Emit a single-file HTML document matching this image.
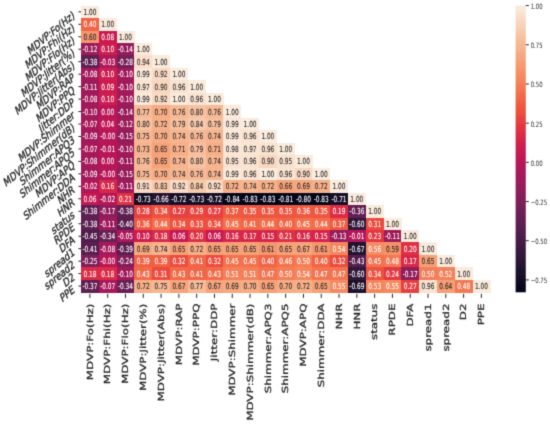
<!DOCTYPE html>
<html lang="en"><head><meta charset="utf-8"><title>Correlation heatmap</title>
<style>html,body{margin:0;padding:0;background:#fff;overflow:hidden}svg{display:block}text{font-family:"DejaVu Sans","Liberation Sans",sans-serif;text-rendering:geometricPrecision;stroke-width:4px;paint-order:stroke}.w{stroke:#fff}.d,.t{stroke:#262626}.a{stroke-width:1.2px}.a{font-size:83px;text-anchor:middle}.w{fill:#fff}.d{fill:#262626}.t{font-size:119px;fill:#262626}.y{font-size:116px}.c{font-size:73px;fill:#262626}</style></head><body>
<svg width="550" height="425" viewBox="0 0 550 425">
<defs><linearGradient id="cb" x1="0" y1="1" x2="0" y2="0">
<stop offset="0" stop-color="#03051a"/>
<stop offset="0.02" stop-color="#07071d"/>
<stop offset="0.03" stop-color="#0d0a21"/>
<stop offset="0.05" stop-color="#130d25"/>
<stop offset="0.06" stop-color="#180f29"/>
<stop offset="0.08" stop-color="#1e122d"/>
<stop offset="0.09" stop-color="#241432"/>
<stop offset="0.11" stop-color="#2a1636"/>
<stop offset="0.12" stop-color="#30173a"/>
<stop offset="0.14" stop-color="#35193e"/>
<stop offset="0.16" stop-color="#3c1a42"/>
<stop offset="0.17" stop-color="#421b45"/>
<stop offset="0.19" stop-color="#481c48"/>
<stop offset="0.2" stop-color="#4e1d4b"/>
<stop offset="0.22" stop-color="#541e4e"/>
<stop offset="0.23" stop-color="#5b1e51"/>
<stop offset="0.25" stop-color="#611f53"/>
<stop offset="0.27" stop-color="#681f55"/>
<stop offset="0.28" stop-color="#6e1f57"/>
<stop offset="0.3" stop-color="#751f58"/>
<stop offset="0.31" stop-color="#7b1f59"/>
<stop offset="0.33" stop-color="#821e5a"/>
<stop offset="0.34" stop-color="#891e5b"/>
<stop offset="0.36" stop-color="#901d5b"/>
<stop offset="0.38" stop-color="#971c5b"/>
<stop offset="0.39" stop-color="#9e1a5b"/>
<stop offset="0.41" stop-color="#a4195b"/>
<stop offset="0.42" stop-color="#ab185a"/>
<stop offset="0.44" stop-color="#b21758"/>
<stop offset="0.45" stop-color="#b91657"/>
<stop offset="0.47" stop-color="#bf1654"/>
<stop offset="0.48" stop-color="#c51852"/>
<stop offset="0.5" stop-color="#cb1b4f"/>
<stop offset="0.52" stop-color="#d11f4c"/>
<stop offset="0.53" stop-color="#d62449"/>
<stop offset="0.55" stop-color="#db2946"/>
<stop offset="0.56" stop-color="#df2f44"/>
<stop offset="0.58" stop-color="#e33641"/>
<stop offset="0.59" stop-color="#e73d3f"/>
<stop offset="0.61" stop-color="#ea443e"/>
<stop offset="0.62" stop-color="#ec4c3e"/>
<stop offset="0.64" stop-color="#ee543f"/>
<stop offset="0.66" stop-color="#f05c42"/>
<stop offset="0.67" stop-color="#f16445"/>
<stop offset="0.69" stop-color="#f26b49"/>
<stop offset="0.7" stop-color="#f3734e"/>
<stop offset="0.72" stop-color="#f47a54"/>
<stop offset="0.73" stop-color="#f4815a"/>
<stop offset="0.75" stop-color="#f58860"/>
<stop offset="0.77" stop-color="#f58f66"/>
<stop offset="0.78" stop-color="#f5966c"/>
<stop offset="0.8" stop-color="#f69c73"/>
<stop offset="0.81" stop-color="#f6a37a"/>
<stop offset="0.83" stop-color="#f6a981"/>
<stop offset="0.84" stop-color="#f6b089"/>
<stop offset="0.86" stop-color="#f6b691"/>
<stop offset="0.88" stop-color="#f6bc99"/>
<stop offset="0.89" stop-color="#f7c2a2"/>
<stop offset="0.91" stop-color="#f7c9aa"/>
<stop offset="0.92" stop-color="#f7cfb3"/>
<stop offset="0.94" stop-color="#f8d4bc"/>
<stop offset="0.95" stop-color="#f8dac5"/>
<stop offset="0.97" stop-color="#f9e0cd"/>
<stop offset="0.98" stop-color="#fae6d6"/>
<stop offset="1" stop-color="#faebdd"/>
</linearGradient>
<filter id="bl" x="0" y="0" width="550" height="425" filterUnits="userSpaceOnUse" color-interpolation-filters="sRGB"><feConvolveMatrix order="5 1" kernelMatrix="0.0010 0.1382 0.7217 0.1382 0.0010" edgeMode="duplicate" preserveAlpha="true" result="h"/><feConvolveMatrix in="h" order="1 5" kernelMatrix="0.0010 0.1382 0.7217 0.1382 0.0010" edgeMode="duplicate" preserveAlpha="true"/></filter>
</defs>
<g filter="url(#bl)">
<rect width="550" height="425" fill="#fff"/>
<g shape-rendering="crispEdges">
<rect x="81" y="5.6" width="18.1" height="12.77" fill="#faebdd"/>
<rect x="81" y="18.07" width="18.1" height="12.77" fill="#f16445"/>
<rect x="98.8" y="18.07" width="18.1" height="12.77" fill="#faebdd"/>
<rect x="81" y="30.53" width="18.1" height="12.77" fill="#f5966c"/>
<rect x="98.8" y="30.53" width="18.1" height="12.77" fill="#ca1a50"/>
<rect x="116.59" y="30.53" width="18.1" height="12.77" fill="#faebdd"/>
<rect x="81" y="43" width="18.1" height="12.77" fill="#9c1b5b"/>
<rect x="98.8" y="43" width="18.1" height="12.77" fill="#ce1d4e"/>
<rect x="116.59" y="43" width="18.1" height="12.77" fill="#971c5b"/>
<rect x="134.39" y="43" width="18.1" height="12.77" fill="#faebdd"/>
<rect x="81" y="55.46" width="18.1" height="12.77" fill="#5e1f52"/>
<rect x="98.8" y="55.46" width="18.1" height="12.77" fill="#b01759"/>
<rect x="116.59" y="55.46" width="18.1" height="12.77" fill="#751f58"/>
<rect x="134.39" y="55.46" width="18.1" height="12.77" fill="#f9dfcb"/>
<rect x="152.18" y="55.46" width="18.1" height="12.77" fill="#faebdd"/>
<rect x="81" y="67.93" width="18.1" height="12.77" fill="#a4195b"/>
<rect x="98.8" y="67.93" width="18.1" height="12.77" fill="#ce1d4e"/>
<rect x="116.59" y="67.93" width="18.1" height="12.77" fill="#a11a5b"/>
<rect x="134.39" y="67.93" width="18.1" height="12.77" fill="#fae9da"/>
<rect x="152.18" y="67.93" width="18.1" height="12.77" fill="#f8dac5"/>
<rect x="169.98" y="67.93" width="18.1" height="12.77" fill="#faebdd"/>
<rect x="81" y="80.39" width="18.1" height="12.77" fill="#9e1a5b"/>
<rect x="98.8" y="80.39" width="18.1" height="12.77" fill="#cb1b4f"/>
<rect x="116.59" y="80.39" width="18.1" height="12.77" fill="#a11a5b"/>
<rect x="134.39" y="80.39" width="18.1" height="12.77" fill="#f9e5d4"/>
<rect x="152.18" y="80.39" width="18.1" height="12.77" fill="#f8d7c0"/>
<rect x="169.98" y="80.39" width="18.1" height="12.77" fill="#f9e3d2"/>
<rect x="187.77" y="80.39" width="18.1" height="12.77" fill="#faebdd"/>
<rect x="81" y="92.86" width="18.1" height="12.77" fill="#a4195b"/>
<rect x="98.8" y="92.86" width="18.1" height="12.77" fill="#ce1d4e"/>
<rect x="116.59" y="92.86" width="18.1" height="12.77" fill="#a11a5b"/>
<rect x="134.39" y="92.86" width="18.1" height="12.77" fill="#fae9da"/>
<rect x="152.18" y="92.86" width="18.1" height="12.77" fill="#f8dac5"/>
<rect x="169.98" y="92.86" width="18.1" height="12.77" fill="#faebdd"/>
<rect x="187.77" y="92.86" width="18.1" height="12.77" fill="#f9e3d2"/>
<rect x="205.57" y="92.86" width="18.1" height="12.77" fill="#faebdd"/>
<rect x="81" y="105.32" width="18.1" height="12.77" fill="#a11a5b"/>
<rect x="98.8" y="105.32" width="18.1" height="12.77" fill="#b91657"/>
<rect x="116.59" y="105.32" width="18.1" height="12.77" fill="#971c5b"/>
<rect x="134.39" y="105.32" width="18.1" height="12.77" fill="#f6bb97"/>
<rect x="152.18" y="105.32" width="18.1" height="12.77" fill="#f6ad85"/>
<rect x="169.98" y="105.32" width="18.1" height="12.77" fill="#f6b995"/>
<rect x="187.77" y="105.32" width="18.1" height="12.77" fill="#f7c2a2"/>
<rect x="205.57" y="105.32" width="18.1" height="12.77" fill="#f6b995"/>
<rect x="223.37" y="105.32" width="18.1" height="12.77" fill="#faebdd"/>
<rect x="81" y="117.79" width="18.1" height="12.77" fill="#a8185a"/>
<rect x="98.8" y="117.79" width="18.1" height="12.77" fill="#c11754"/>
<rect x="116.59" y="117.79" width="18.1" height="12.77" fill="#9c1b5b"/>
<rect x="134.39" y="117.79" width="18.1" height="12.77" fill="#f7c2a2"/>
<rect x="152.18" y="117.79" width="18.1" height="12.77" fill="#f6b089"/>
<rect x="169.98" y="117.79" width="18.1" height="12.77" fill="#f6bf9d"/>
<rect x="187.77" y="117.79" width="18.1" height="12.77" fill="#f7caac"/>
<rect x="205.57" y="117.79" width="18.1" height="12.77" fill="#f6bf9d"/>
<rect x="223.37" y="117.79" width="18.1" height="12.77" fill="#fae9da"/>
<rect x="241.16" y="117.79" width="18.1" height="12.77" fill="#faebdd"/>
<rect x="81" y="130.25" width="18.1" height="12.77" fill="#a3195b"/>
<rect x="98.8" y="130.25" width="18.1" height="12.77" fill="#b91657"/>
<rect x="116.59" y="130.25" width="18.1" height="12.77" fill="#951c5b"/>
<rect x="134.39" y="130.25" width="18.1" height="12.77" fill="#f6b893"/>
<rect x="152.18" y="130.25" width="18.1" height="12.77" fill="#f6ad85"/>
<rect x="169.98" y="130.25" width="18.1" height="12.77" fill="#f6b48f"/>
<rect x="187.77" y="130.25" width="18.1" height="12.77" fill="#f6b995"/>
<rect x="205.57" y="130.25" width="18.1" height="12.77" fill="#f6b48f"/>
<rect x="223.37" y="130.25" width="18.1" height="12.77" fill="#fae9da"/>
<rect x="241.16" y="130.25" width="18.1" height="12.77" fill="#f9e3d2"/>
<rect x="258.96" y="130.25" width="18.1" height="12.77" fill="#faebdd"/>
<rect x="81" y="142.72" width="18.1" height="12.77" fill="#a8185a"/>
<rect x="98.8" y="142.72" width="18.1" height="12.77" fill="#b51657"/>
<rect x="116.59" y="142.72" width="18.1" height="12.77" fill="#a11a5b"/>
<rect x="134.39" y="142.72" width="18.1" height="12.77" fill="#f6b38d"/>
<rect x="152.18" y="142.72" width="18.1" height="12.77" fill="#f6a178"/>
<rect x="169.98" y="142.72" width="18.1" height="12.77" fill="#f6ae87"/>
<rect x="187.77" y="142.72" width="18.1" height="12.77" fill="#f6bf9d"/>
<rect x="205.57" y="142.72" width="18.1" height="12.77" fill="#f6ae87"/>
<rect x="223.37" y="142.72" width="18.1" height="12.77" fill="#fae8d8"/>
<rect x="241.16" y="142.72" width="18.1" height="12.77" fill="#f9e5d4"/>
<rect x="258.96" y="142.72" width="18.1" height="12.77" fill="#f9e3d2"/>
<rect x="276.75" y="142.72" width="18.1" height="12.77" fill="#faebdd"/>
<rect x="81" y="155.18" width="18.1" height="12.77" fill="#a4195b"/>
<rect x="98.8" y="155.18" width="18.1" height="12.77" fill="#b91657"/>
<rect x="116.59" y="155.18" width="18.1" height="12.77" fill="#9e1a5b"/>
<rect x="134.39" y="155.18" width="18.1" height="12.77" fill="#f6b995"/>
<rect x="152.18" y="155.18" width="18.1" height="12.77" fill="#f6a178"/>
<rect x="169.98" y="155.18" width="18.1" height="12.77" fill="#f6b48f"/>
<rect x="187.77" y="155.18" width="18.1" height="12.77" fill="#f7c2a2"/>
<rect x="205.57" y="155.18" width="18.1" height="12.77" fill="#f6b48f"/>
<rect x="223.37" y="155.18" width="18.1" height="12.77" fill="#f9e2d0"/>
<rect x="241.16" y="155.18" width="18.1" height="12.77" fill="#f9e3d2"/>
<rect x="258.96" y="155.18" width="18.1" height="12.77" fill="#f8d7c0"/>
<rect x="276.75" y="155.18" width="18.1" height="12.77" fill="#f9e2d0"/>
<rect x="294.55" y="155.18" width="18.1" height="12.77" fill="#faebdd"/>
<rect x="81" y="167.65" width="18.1" height="12.77" fill="#a3195b"/>
<rect x="98.8" y="167.65" width="18.1" height="12.77" fill="#b91657"/>
<rect x="116.59" y="167.65" width="18.1" height="12.77" fill="#951c5b"/>
<rect x="134.39" y="167.65" width="18.1" height="12.77" fill="#f6b893"/>
<rect x="152.18" y="167.65" width="18.1" height="12.77" fill="#f6ad85"/>
<rect x="169.98" y="167.65" width="18.1" height="12.77" fill="#f6b48f"/>
<rect x="187.77" y="167.65" width="18.1" height="12.77" fill="#f6b995"/>
<rect x="205.57" y="167.65" width="18.1" height="12.77" fill="#f6b48f"/>
<rect x="223.37" y="167.65" width="18.1" height="12.77" fill="#fae9da"/>
<rect x="241.16" y="167.65" width="18.1" height="12.77" fill="#f9e3d2"/>
<rect x="258.96" y="167.65" width="18.1" height="12.77" fill="#faebdd"/>
<rect x="276.75" y="167.65" width="18.1" height="12.77" fill="#f9e3d2"/>
<rect x="294.55" y="167.65" width="18.1" height="12.77" fill="#f8d7c0"/>
<rect x="312.34" y="167.65" width="18.1" height="12.77" fill="#faebdd"/>
<rect x="81" y="180.11" width="18.1" height="12.77" fill="#b41658"/>
<rect x="98.8" y="180.11" width="18.1" height="12.77" fill="#d82748"/>
<rect x="116.59" y="180.11" width="18.1" height="12.77" fill="#9e1a5b"/>
<rect x="134.39" y="180.11" width="18.1" height="12.77" fill="#f8d9c3"/>
<rect x="152.18" y="180.11" width="18.1" height="12.77" fill="#f7c9aa"/>
<rect x="169.98" y="180.11" width="18.1" height="12.77" fill="#f8dac5"/>
<rect x="187.77" y="180.11" width="18.1" height="12.77" fill="#f7caac"/>
<rect x="205.57" y="180.11" width="18.1" height="12.77" fill="#f8dac5"/>
<rect x="223.37" y="180.11" width="18.1" height="12.77" fill="#f6b089"/>
<rect x="241.16" y="180.11" width="18.1" height="12.77" fill="#f6b48f"/>
<rect x="258.96" y="180.11" width="18.1" height="12.77" fill="#f6b089"/>
<rect x="276.75" y="180.11" width="18.1" height="12.77" fill="#f6a37a"/>
<rect x="294.55" y="180.11" width="18.1" height="12.77" fill="#f6a981"/>
<rect x="312.34" y="180.11" width="18.1" height="12.77" fill="#f6b089"/>
<rect x="330.14" y="180.11" width="18.1" height="12.77" fill="#faebdd"/>
<rect x="81" y="192.58" width="18.1" height="12.77" fill="#c51852"/>
<rect x="98.8" y="192.58" width="18.1" height="12.77" fill="#b41658"/>
<rect x="116.59" y="192.58" width="18.1" height="12.77" fill="#e03143"/>
<rect x="134.39" y="192.58" width="18.1" height="12.77" fill="#140e26"/>
<rect x="152.18" y="192.58" width="18.1" height="12.77" fill="#221331"/>
<rect x="169.98" y="192.58" width="18.1" height="12.77" fill="#170f28"/>
<rect x="187.77" y="192.58" width="18.1" height="12.77" fill="#140e26"/>
<rect x="205.57" y="192.58" width="18.1" height="12.77" fill="#170f28"/>
<rect x="223.37" y="192.58" width="18.1" height="12.77" fill="#03051a"/>
<rect x="241.16" y="192.58" width="18.1" height="12.77" fill="#03051a"/>
<rect x="258.96" y="192.58" width="18.1" height="12.77" fill="#03051a"/>
<rect x="276.75" y="192.58" width="18.1" height="12.77" fill="#05061b"/>
<rect x="294.55" y="192.58" width="18.1" height="12.77" fill="#07071d"/>
<rect x="312.34" y="192.58" width="18.1" height="12.77" fill="#03051a"/>
<rect x="330.14" y="192.58" width="18.1" height="12.77" fill="#180f29"/>
<rect x="347.93" y="192.58" width="18.1" height="12.77" fill="#faebdd"/>
<rect x="81" y="205.04" width="18.1" height="12.77" fill="#5e1f52"/>
<rect x="98.8" y="205.04" width="18.1" height="12.77" fill="#901d5b"/>
<rect x="116.59" y="205.04" width="18.1" height="12.77" fill="#5e1f52"/>
<rect x="134.39" y="205.04" width="18.1" height="12.77" fill="#e9423e"/>
<rect x="152.18" y="205.04" width="18.1" height="12.77" fill="#ee523f"/>
<rect x="169.98" y="205.04" width="18.1" height="12.77" fill="#e83f3f"/>
<rect x="187.77" y="205.04" width="18.1" height="12.77" fill="#ea443e"/>
<rect x="205.57" y="205.04" width="18.1" height="12.77" fill="#e83f3f"/>
<rect x="223.37" y="205.04" width="18.1" height="12.77" fill="#ef5a41"/>
<rect x="241.16" y="205.04" width="18.1" height="12.77" fill="#ef5640"/>
<rect x="258.96" y="205.04" width="18.1" height="12.77" fill="#ef5640"/>
<rect x="276.75" y="205.04" width="18.1" height="12.77" fill="#ef5640"/>
<rect x="294.55" y="205.04" width="18.1" height="12.77" fill="#ef5840"/>
<rect x="312.34" y="205.04" width="18.1" height="12.77" fill="#ef5640"/>
<rect x="330.14" y="205.04" width="18.1" height="12.77" fill="#dd2c45"/>
<rect x="347.93" y="205.04" width="18.1" height="12.77" fill="#631f53"/>
<rect x="365.73" y="205.04" width="18.1" height="12.77" fill="#faebdd"/>
<rect x="81" y="217.51" width="18.1" height="12.77" fill="#5e1f52"/>
<rect x="98.8" y="217.51" width="18.1" height="12.77" fill="#9e1a5b"/>
<rect x="116.59" y="217.51" width="18.1" height="12.77" fill="#5b1e51"/>
<rect x="134.39" y="217.51" width="18.1" height="12.77" fill="#ef5840"/>
<rect x="152.18" y="217.51" width="18.1" height="12.77" fill="#f26d4b"/>
<rect x="169.98" y="217.51" width="18.1" height="12.77" fill="#ee523f"/>
<rect x="187.77" y="217.51" width="18.1" height="12.77" fill="#ed503e"/>
<rect x="205.57" y="217.51" width="18.1" height="12.77" fill="#ee523f"/>
<rect x="223.37" y="217.51" width="18.1" height="12.77" fill="#f3714d"/>
<rect x="241.16" y="217.51" width="18.1" height="12.77" fill="#f16646"/>
<rect x="258.96" y="217.51" width="18.1" height="12.77" fill="#f26d4b"/>
<rect x="276.75" y="217.51" width="18.1" height="12.77" fill="#f16445"/>
<rect x="294.55" y="217.51" width="18.1" height="12.77" fill="#f3714d"/>
<rect x="312.34" y="217.51" width="18.1" height="12.77" fill="#f26d4b"/>
<rect x="330.14" y="217.51" width="18.1" height="12.77" fill="#ef5a41"/>
<rect x="347.93" y="217.51" width="18.1" height="12.77" fill="#30173a"/>
<rect x="365.73" y="217.51" width="18.1" height="12.77" fill="#ec4a3e"/>
<rect x="383.53" y="217.51" width="18.1" height="12.77" fill="#faebdd"/>
<rect x="81" y="229.97" width="18.1" height="12.77" fill="#501d4c"/>
<rect x="98.8" y="229.97" width="18.1" height="12.77" fill="#681f55"/>
<rect x="116.59" y="229.97" width="18.1" height="12.77" fill="#ad1759"/>
<rect x="134.39" y="229.97" width="18.1" height="12.77" fill="#ce1d4e"/>
<rect x="152.18" y="229.97" width="18.1" height="12.77" fill="#dc2b46"/>
<rect x="169.98" y="229.97" width="18.1" height="12.77" fill="#c51852"/>
<rect x="187.77" y="229.97" width="18.1" height="12.77" fill="#df2f44"/>
<rect x="205.57" y="229.97" width="18.1" height="12.77" fill="#c51852"/>
<rect x="223.37" y="229.97" width="18.1" height="12.77" fill="#d82748"/>
<rect x="241.16" y="229.97" width="18.1" height="12.77" fill="#d92847"/>
<rect x="258.96" y="229.97" width="18.1" height="12.77" fill="#d72549"/>
<rect x="276.75" y="229.97" width="18.1" height="12.77" fill="#e03143"/>
<rect x="294.55" y="229.97" width="18.1" height="12.77" fill="#d82748"/>
<rect x="312.34" y="229.97" width="18.1" height="12.77" fill="#d72549"/>
<rect x="330.14" y="229.97" width="18.1" height="12.77" fill="#981b5b"/>
<rect x="347.93" y="229.97" width="18.1" height="12.77" fill="#b51657"/>
<rect x="365.73" y="229.97" width="18.1" height="12.77" fill="#e33641"/>
<rect x="383.53" y="229.97" width="18.1" height="12.77" fill="#9e1a5b"/>
<rect x="401.32" y="229.97" width="18.1" height="12.77" fill="#faebdd"/>
<rect x="81" y="242.44" width="18.1" height="12.77" fill="#581e4f"/>
<rect x="98.8" y="242.44" width="18.1" height="12.77" fill="#a4195b"/>
<rect x="116.59" y="242.44" width="18.1" height="12.77" fill="#5c1e51"/>
<rect x="134.39" y="242.44" width="18.1" height="12.77" fill="#f6a981"/>
<rect x="152.18" y="242.44" width="18.1" height="12.77" fill="#f6b48f"/>
<rect x="169.98" y="242.44" width="18.1" height="12.77" fill="#f6a178"/>
<rect x="187.77" y="242.44" width="18.1" height="12.77" fill="#f6b089"/>
<rect x="205.57" y="242.44" width="18.1" height="12.77" fill="#f6a178"/>
<rect x="223.37" y="242.44" width="18.1" height="12.77" fill="#f6a178"/>
<rect x="241.16" y="242.44" width="18.1" height="12.77" fill="#f6a178"/>
<rect x="258.96" y="242.44" width="18.1" height="12.77" fill="#f5976e"/>
<rect x="276.75" y="242.44" width="18.1" height="12.77" fill="#f6a178"/>
<rect x="294.55" y="242.44" width="18.1" height="12.77" fill="#f6a47c"/>
<rect x="312.34" y="242.44" width="18.1" height="12.77" fill="#f5976e"/>
<rect x="330.14" y="242.44" width="18.1" height="12.77" fill="#f4865e"/>
<rect x="347.93" y="242.44" width="18.1" height="12.77" fill="#211330"/>
<rect x="365.73" y="242.44" width="18.1" height="12.77" fill="#f58b63"/>
<rect x="383.53" y="242.44" width="18.1" height="12.77" fill="#f59269"/>
<rect x="401.32" y="242.44" width="18.1" height="12.77" fill="#df2f44"/>
<rect x="419.12" y="242.44" width="18.1" height="12.77" fill="#faebdd"/>
<rect x="81" y="254.9" width="18.1" height="12.77" fill="#7d1f5a"/>
<rect x="98.8" y="254.9" width="18.1" height="12.77" fill="#b91657"/>
<rect x="116.59" y="254.9" width="18.1" height="12.77" fill="#7f1e5a"/>
<rect x="134.39" y="254.9" width="18.1" height="12.77" fill="#f06043"/>
<rect x="152.18" y="254.9" width="18.1" height="12.77" fill="#f06043"/>
<rect x="169.98" y="254.9" width="18.1" height="12.77" fill="#ec4c3e"/>
<rect x="187.77" y="254.9" width="18.1" height="12.77" fill="#f16646"/>
<rect x="205.57" y="254.9" width="18.1" height="12.77" fill="#ec4c3e"/>
<rect x="223.37" y="254.9" width="18.1" height="12.77" fill="#f3714d"/>
<rect x="241.16" y="254.9" width="18.1" height="12.77" fill="#f3714d"/>
<rect x="258.96" y="254.9" width="18.1" height="12.77" fill="#f16445"/>
<rect x="276.75" y="254.9" width="18.1" height="12.77" fill="#f3734e"/>
<rect x="294.55" y="254.9" width="18.1" height="12.77" fill="#f47d57"/>
<rect x="312.34" y="254.9" width="18.1" height="12.77" fill="#f16445"/>
<rect x="330.14" y="254.9" width="18.1" height="12.77" fill="#ec4c3e"/>
<rect x="347.93" y="254.9" width="18.1" height="12.77" fill="#531e4d"/>
<rect x="365.73" y="254.9" width="18.1" height="12.77" fill="#f3714d"/>
<rect x="383.53" y="254.9" width="18.1" height="12.77" fill="#f37852"/>
<rect x="401.32" y="254.9" width="18.1" height="12.77" fill="#d92847"/>
<rect x="419.12" y="254.9" width="18.1" height="12.77" fill="#f6a178"/>
<rect x="436.91" y="254.9" width="18.1" height="12.77" fill="#faebdd"/>
<rect x="81" y="267.37" width="18.1" height="12.77" fill="#dc2b46"/>
<rect x="98.8" y="267.37" width="18.1" height="12.77" fill="#dc2b46"/>
<rect x="116.59" y="267.37" width="18.1" height="12.77" fill="#a11a5b"/>
<rect x="134.39" y="267.37" width="18.1" height="12.77" fill="#f26b49"/>
<rect x="152.18" y="267.37" width="18.1" height="12.77" fill="#ec4a3e"/>
<rect x="169.98" y="267.37" width="18.1" height="12.77" fill="#f26b49"/>
<rect x="187.77" y="267.37" width="18.1" height="12.77" fill="#f16646"/>
<rect x="205.57" y="267.37" width="18.1" height="12.77" fill="#f26b49"/>
<rect x="223.37" y="267.37" width="18.1" height="12.77" fill="#f47f58"/>
<rect x="241.16" y="267.37" width="18.1" height="12.77" fill="#f47f58"/>
<rect x="258.96" y="267.37" width="18.1" height="12.77" fill="#f37450"/>
<rect x="276.75" y="267.37" width="18.1" height="12.77" fill="#f47d57"/>
<rect x="294.55" y="267.37" width="18.1" height="12.77" fill="#f4865e"/>
<rect x="312.34" y="267.37" width="18.1" height="12.77" fill="#f37450"/>
<rect x="330.14" y="267.37" width="18.1" height="12.77" fill="#f37450"/>
<rect x="347.93" y="267.37" width="18.1" height="12.77" fill="#30173a"/>
<rect x="365.73" y="267.37" width="18.1" height="12.77" fill="#ee523f"/>
<rect x="383.53" y="267.37" width="18.1" height="12.77" fill="#e43841"/>
<rect x="401.32" y="267.37" width="18.1" height="12.77" fill="#901d5b"/>
<rect x="419.12" y="267.37" width="18.1" height="12.77" fill="#f47d57"/>
<rect x="436.91" y="267.37" width="18.1" height="12.77" fill="#f4815a"/>
<rect x="454.71" y="267.37" width="18.1" height="12.77" fill="#faebdd"/>
<rect x="81" y="279.83" width="18.1" height="12.77" fill="#611f53"/>
<rect x="98.8" y="279.83" width="18.1" height="12.77" fill="#a8185a"/>
<rect x="116.59" y="279.83" width="18.1" height="12.77" fill="#681f55"/>
<rect x="134.39" y="279.83" width="18.1" height="12.77" fill="#f6b089"/>
<rect x="152.18" y="279.83" width="18.1" height="12.77" fill="#f6b893"/>
<rect x="169.98" y="279.83" width="18.1" height="12.77" fill="#f6a47c"/>
<rect x="187.77" y="279.83" width="18.1" height="12.77" fill="#f6bb97"/>
<rect x="205.57" y="279.83" width="18.1" height="12.77" fill="#f6a47c"/>
<rect x="223.37" y="279.83" width="18.1" height="12.77" fill="#f6a981"/>
<rect x="241.16" y="279.83" width="18.1" height="12.77" fill="#f6ad85"/>
<rect x="258.96" y="279.83" width="18.1" height="12.77" fill="#f6a178"/>
<rect x="276.75" y="279.83" width="18.1" height="12.77" fill="#f6ad85"/>
<rect x="294.55" y="279.83" width="18.1" height="12.77" fill="#f6b089"/>
<rect x="312.34" y="279.83" width="18.1" height="12.77" fill="#f6a178"/>
<rect x="330.14" y="279.83" width="18.1" height="12.77" fill="#f58a61"/>
<rect x="347.93" y="279.83" width="18.1" height="12.77" fill="#1d112c"/>
<rect x="365.73" y="279.83" width="18.1" height="12.77" fill="#f4845d"/>
<rect x="383.53" y="279.83" width="18.1" height="12.77" fill="#f58a61"/>
<rect x="401.32" y="279.83" width="18.1" height="12.77" fill="#e83f3f"/>
<rect x="419.12" y="279.83" width="18.1" height="12.77" fill="#f9e3d2"/>
<rect x="436.91" y="279.83" width="18.1" height="12.77" fill="#f69e75"/>
<rect x="454.71" y="279.83" width="18.1" height="12.77" fill="#f37852"/>
<rect x="472.5" y="279.83" width="18.1" height="12.77" fill="#faebdd"/>
</g>
<g><text class="a d" transform="translate(89.9 14.83) scale(0.07 .1)">1.00</text>
<text class="a w" transform="translate(89.9 27.3) scale(0.07 .1)">0.40</text>
<text class="a d" transform="translate(107.69 27.3) scale(0.07 .1)">1.00</text>
<text class="a d" transform="translate(89.9 39.76) scale(0.07 .1)">0.60</text>
<text class="a w" transform="translate(107.69 39.76) scale(0.07 .1)">0.08</text>
<text class="a d" transform="translate(125.49 39.76) scale(0.07 .1)">1.00</text>
<text class="a w" transform="translate(89.9 52.23) scale(0.07 .1)">-0.12</text>
<text class="a w" transform="translate(107.69 52.23) scale(0.07 .1)">0.10</text>
<text class="a w" transform="translate(125.49 52.23) scale(0.07 .1)">-0.14</text>
<text class="a d" transform="translate(143.28 52.23) scale(0.07 .1)">1.00</text>
<text class="a w" transform="translate(89.9 64.69) scale(0.07 .1)">-0.38</text>
<text class="a w" transform="translate(107.69 64.69) scale(0.07 .1)">-0.03</text>
<text class="a w" transform="translate(125.49 64.69) scale(0.07 .1)">-0.28</text>
<text class="a d" transform="translate(143.28 64.69) scale(0.07 .1)">0.94</text>
<text class="a d" transform="translate(161.08 64.69) scale(0.07 .1)">1.00</text>
<text class="a w" transform="translate(89.9 77.16) scale(0.07 .1)">-0.08</text>
<text class="a w" transform="translate(107.69 77.16) scale(0.07 .1)">0.10</text>
<text class="a w" transform="translate(125.49 77.16) scale(0.07 .1)">-0.10</text>
<text class="a d" transform="translate(143.28 77.16) scale(0.07 .1)">0.99</text>
<text class="a d" transform="translate(161.08 77.16) scale(0.07 .1)">0.92</text>
<text class="a d" transform="translate(178.88 77.16) scale(0.07 .1)">1.00</text>
<text class="a w" transform="translate(89.9 89.62) scale(0.07 .1)">-0.11</text>
<text class="a w" transform="translate(107.69 89.62) scale(0.07 .1)">0.09</text>
<text class="a w" transform="translate(125.49 89.62) scale(0.07 .1)">-0.10</text>
<text class="a d" transform="translate(143.28 89.62) scale(0.07 .1)">0.97</text>
<text class="a d" transform="translate(161.08 89.62) scale(0.07 .1)">0.90</text>
<text class="a d" transform="translate(178.88 89.62) scale(0.07 .1)">0.96</text>
<text class="a d" transform="translate(196.67 89.62) scale(0.07 .1)">1.00</text>
<text class="a w" transform="translate(89.9 102.09) scale(0.07 .1)">-0.08</text>
<text class="a w" transform="translate(107.69 102.09) scale(0.07 .1)">0.10</text>
<text class="a w" transform="translate(125.49 102.09) scale(0.07 .1)">-0.10</text>
<text class="a d" transform="translate(143.28 102.09) scale(0.07 .1)">0.99</text>
<text class="a d" transform="translate(161.08 102.09) scale(0.07 .1)">0.92</text>
<text class="a d" transform="translate(178.88 102.09) scale(0.07 .1)">1.00</text>
<text class="a d" transform="translate(196.67 102.09) scale(0.07 .1)">0.96</text>
<text class="a d" transform="translate(214.47 102.09) scale(0.07 .1)">1.00</text>
<text class="a w" transform="translate(89.9 114.55) scale(0.07 .1)">-0.10</text>
<text class="a w" transform="translate(107.69 114.55) scale(0.07 .1)">0.00</text>
<text class="a w" transform="translate(125.49 114.55) scale(0.07 .1)">-0.14</text>
<text class="a d" transform="translate(143.28 114.55) scale(0.07 .1)">0.77</text>
<text class="a d" transform="translate(161.08 114.55) scale(0.07 .1)">0.70</text>
<text class="a d" transform="translate(178.88 114.55) scale(0.07 .1)">0.76</text>
<text class="a d" transform="translate(196.67 114.55) scale(0.07 .1)">0.80</text>
<text class="a d" transform="translate(214.47 114.55) scale(0.07 .1)">0.76</text>
<text class="a d" transform="translate(232.26 114.55) scale(0.07 .1)">1.00</text>
<text class="a w" transform="translate(89.9 127.02) scale(0.07 .1)">-0.07</text>
<text class="a w" transform="translate(107.69 127.02) scale(0.07 .1)">0.04</text>
<text class="a w" transform="translate(125.49 127.02) scale(0.07 .1)">-0.12</text>
<text class="a d" transform="translate(143.28 127.02) scale(0.07 .1)">0.80</text>
<text class="a d" transform="translate(161.08 127.02) scale(0.07 .1)">0.72</text>
<text class="a d" transform="translate(178.88 127.02) scale(0.07 .1)">0.79</text>
<text class="a d" transform="translate(196.67 127.02) scale(0.07 .1)">0.84</text>
<text class="a d" transform="translate(214.47 127.02) scale(0.07 .1)">0.79</text>
<text class="a d" transform="translate(232.26 127.02) scale(0.07 .1)">0.99</text>
<text class="a d" transform="translate(250.06 127.02) scale(0.07 .1)">1.00</text>
<text class="a w" transform="translate(89.9 139.48) scale(0.07 .1)">-0.09</text>
<text class="a w" transform="translate(107.69 139.48) scale(0.07 .1)">-0.00</text>
<text class="a w" transform="translate(125.49 139.48) scale(0.07 .1)">-0.15</text>
<text class="a d" transform="translate(143.28 139.48) scale(0.07 .1)">0.75</text>
<text class="a d" transform="translate(161.08 139.48) scale(0.07 .1)">0.70</text>
<text class="a d" transform="translate(178.88 139.48) scale(0.07 .1)">0.74</text>
<text class="a d" transform="translate(196.67 139.48) scale(0.07 .1)">0.76</text>
<text class="a d" transform="translate(214.47 139.48) scale(0.07 .1)">0.74</text>
<text class="a d" transform="translate(232.26 139.48) scale(0.07 .1)">0.99</text>
<text class="a d" transform="translate(250.06 139.48) scale(0.07 .1)">0.96</text>
<text class="a d" transform="translate(267.85 139.48) scale(0.07 .1)">1.00</text>
<text class="a w" transform="translate(89.9 151.95) scale(0.07 .1)">-0.07</text>
<text class="a w" transform="translate(107.69 151.95) scale(0.07 .1)">-0.01</text>
<text class="a w" transform="translate(125.49 151.95) scale(0.07 .1)">-0.10</text>
<text class="a d" transform="translate(143.28 151.95) scale(0.07 .1)">0.73</text>
<text class="a d" transform="translate(161.08 151.95) scale(0.07 .1)">0.65</text>
<text class="a d" transform="translate(178.88 151.95) scale(0.07 .1)">0.71</text>
<text class="a d" transform="translate(196.67 151.95) scale(0.07 .1)">0.79</text>
<text class="a d" transform="translate(214.47 151.95) scale(0.07 .1)">0.71</text>
<text class="a d" transform="translate(232.26 151.95) scale(0.07 .1)">0.98</text>
<text class="a d" transform="translate(250.06 151.95) scale(0.07 .1)">0.97</text>
<text class="a d" transform="translate(267.85 151.95) scale(0.07 .1)">0.96</text>
<text class="a d" transform="translate(285.65 151.95) scale(0.07 .1)">1.00</text>
<text class="a w" transform="translate(89.9 164.42) scale(0.07 .1)">-0.08</text>
<text class="a w" transform="translate(107.69 164.42) scale(0.07 .1)">0.00</text>
<text class="a w" transform="translate(125.49 164.42) scale(0.07 .1)">-0.11</text>
<text class="a d" transform="translate(143.28 164.42) scale(0.07 .1)">0.76</text>
<text class="a d" transform="translate(161.08 164.42) scale(0.07 .1)">0.65</text>
<text class="a d" transform="translate(178.88 164.42) scale(0.07 .1)">0.74</text>
<text class="a d" transform="translate(196.67 164.42) scale(0.07 .1)">0.80</text>
<text class="a d" transform="translate(214.47 164.42) scale(0.07 .1)">0.74</text>
<text class="a d" transform="translate(232.26 164.42) scale(0.07 .1)">0.95</text>
<text class="a d" transform="translate(250.06 164.42) scale(0.07 .1)">0.96</text>
<text class="a d" transform="translate(267.85 164.42) scale(0.07 .1)">0.90</text>
<text class="a d" transform="translate(285.65 164.42) scale(0.07 .1)">0.95</text>
<text class="a d" transform="translate(303.45 164.42) scale(0.07 .1)">1.00</text>
<text class="a w" transform="translate(89.9 176.88) scale(0.07 .1)">-0.09</text>
<text class="a w" transform="translate(107.69 176.88) scale(0.07 .1)">-0.00</text>
<text class="a w" transform="translate(125.49 176.88) scale(0.07 .1)">-0.15</text>
<text class="a d" transform="translate(143.28 176.88) scale(0.07 .1)">0.75</text>
<text class="a d" transform="translate(161.08 176.88) scale(0.07 .1)">0.70</text>
<text class="a d" transform="translate(178.88 176.88) scale(0.07 .1)">0.74</text>
<text class="a d" transform="translate(196.67 176.88) scale(0.07 .1)">0.76</text>
<text class="a d" transform="translate(214.47 176.88) scale(0.07 .1)">0.74</text>
<text class="a d" transform="translate(232.26 176.88) scale(0.07 .1)">0.99</text>
<text class="a d" transform="translate(250.06 176.88) scale(0.07 .1)">0.96</text>
<text class="a d" transform="translate(267.85 176.88) scale(0.07 .1)">1.00</text>
<text class="a d" transform="translate(285.65 176.88) scale(0.07 .1)">0.96</text>
<text class="a d" transform="translate(303.45 176.88) scale(0.07 .1)">0.90</text>
<text class="a d" transform="translate(321.24 176.88) scale(0.07 .1)">1.00</text>
<text class="a w" transform="translate(89.9 189.35) scale(0.07 .1)">-0.02</text>
<text class="a w" transform="translate(107.69 189.35) scale(0.07 .1)">0.16</text>
<text class="a w" transform="translate(125.49 189.35) scale(0.07 .1)">-0.11</text>
<text class="a d" transform="translate(143.28 189.35) scale(0.07 .1)">0.91</text>
<text class="a d" transform="translate(161.08 189.35) scale(0.07 .1)">0.83</text>
<text class="a d" transform="translate(178.88 189.35) scale(0.07 .1)">0.92</text>
<text class="a d" transform="translate(196.67 189.35) scale(0.07 .1)">0.84</text>
<text class="a d" transform="translate(214.47 189.35) scale(0.07 .1)">0.92</text>
<text class="a d" transform="translate(232.26 189.35) scale(0.07 .1)">0.72</text>
<text class="a d" transform="translate(250.06 189.35) scale(0.07 .1)">0.74</text>
<text class="a d" transform="translate(267.85 189.35) scale(0.07 .1)">0.72</text>
<text class="a d" transform="translate(285.65 189.35) scale(0.07 .1)">0.66</text>
<text class="a d" transform="translate(303.45 189.35) scale(0.07 .1)">0.69</text>
<text class="a d" transform="translate(321.24 189.35) scale(0.07 .1)">0.72</text>
<text class="a d" transform="translate(339.04 189.35) scale(0.07 .1)">1.00</text>
<text class="a w" transform="translate(89.9 201.81) scale(0.07 .1)">0.06</text>
<text class="a w" transform="translate(107.69 201.81) scale(0.07 .1)">-0.02</text>
<text class="a w" transform="translate(125.49 201.81) scale(0.07 .1)">0.21</text>
<text class="a w" transform="translate(143.28 201.81) scale(0.07 .1)">-0.73</text>
<text class="a w" transform="translate(161.08 201.81) scale(0.07 .1)">-0.66</text>
<text class="a w" transform="translate(178.88 201.81) scale(0.07 .1)">-0.72</text>
<text class="a w" transform="translate(196.67 201.81) scale(0.07 .1)">-0.73</text>
<text class="a w" transform="translate(214.47 201.81) scale(0.07 .1)">-0.72</text>
<text class="a w" transform="translate(232.26 201.81) scale(0.07 .1)">-0.84</text>
<text class="a w" transform="translate(250.06 201.81) scale(0.07 .1)">-0.83</text>
<text class="a w" transform="translate(267.85 201.81) scale(0.07 .1)">-0.83</text>
<text class="a w" transform="translate(285.65 201.81) scale(0.07 .1)">-0.81</text>
<text class="a w" transform="translate(303.45 201.81) scale(0.07 .1)">-0.80</text>
<text class="a w" transform="translate(321.24 201.81) scale(0.07 .1)">-0.83</text>
<text class="a w" transform="translate(339.04 201.81) scale(0.07 .1)">-0.71</text>
<text class="a d" transform="translate(356.83 201.81) scale(0.07 .1)">1.00</text>
<text class="a w" transform="translate(89.9 214.28) scale(0.07 .1)">-0.38</text>
<text class="a w" transform="translate(107.69 214.28) scale(0.07 .1)">-0.17</text>
<text class="a w" transform="translate(125.49 214.28) scale(0.07 .1)">-0.38</text>
<text class="a w" transform="translate(143.28 214.28) scale(0.07 .1)">0.28</text>
<text class="a w" transform="translate(161.08 214.28) scale(0.07 .1)">0.34</text>
<text class="a w" transform="translate(178.88 214.28) scale(0.07 .1)">0.27</text>
<text class="a w" transform="translate(196.67 214.28) scale(0.07 .1)">0.29</text>
<text class="a w" transform="translate(214.47 214.28) scale(0.07 .1)">0.27</text>
<text class="a w" transform="translate(232.26 214.28) scale(0.07 .1)">0.37</text>
<text class="a w" transform="translate(250.06 214.28) scale(0.07 .1)">0.35</text>
<text class="a w" transform="translate(267.85 214.28) scale(0.07 .1)">0.35</text>
<text class="a w" transform="translate(285.65 214.28) scale(0.07 .1)">0.35</text>
<text class="a w" transform="translate(303.45 214.28) scale(0.07 .1)">0.36</text>
<text class="a w" transform="translate(321.24 214.28) scale(0.07 .1)">0.35</text>
<text class="a w" transform="translate(339.04 214.28) scale(0.07 .1)">0.19</text>
<text class="a w" transform="translate(356.83 214.28) scale(0.07 .1)">-0.36</text>
<text class="a d" transform="translate(374.63 214.28) scale(0.07 .1)">1.00</text>
<text class="a w" transform="translate(89.9 226.74) scale(0.07 .1)">-0.38</text>
<text class="a w" transform="translate(107.69 226.74) scale(0.07 .1)">-0.11</text>
<text class="a w" transform="translate(125.49 226.74) scale(0.07 .1)">-0.40</text>
<text class="a w" transform="translate(143.28 226.74) scale(0.07 .1)">0.36</text>
<text class="a w" transform="translate(161.08 226.74) scale(0.07 .1)">0.44</text>
<text class="a w" transform="translate(178.88 226.74) scale(0.07 .1)">0.34</text>
<text class="a w" transform="translate(196.67 226.74) scale(0.07 .1)">0.33</text>
<text class="a w" transform="translate(214.47 226.74) scale(0.07 .1)">0.34</text>
<text class="a w" transform="translate(232.26 226.74) scale(0.07 .1)">0.45</text>
<text class="a w" transform="translate(250.06 226.74) scale(0.07 .1)">0.41</text>
<text class="a w" transform="translate(267.85 226.74) scale(0.07 .1)">0.44</text>
<text class="a w" transform="translate(285.65 226.74) scale(0.07 .1)">0.40</text>
<text class="a w" transform="translate(303.45 226.74) scale(0.07 .1)">0.45</text>
<text class="a w" transform="translate(321.24 226.74) scale(0.07 .1)">0.44</text>
<text class="a w" transform="translate(339.04 226.74) scale(0.07 .1)">0.37</text>
<text class="a w" transform="translate(356.83 226.74) scale(0.07 .1)">-0.60</text>
<text class="a w" transform="translate(374.63 226.74) scale(0.07 .1)">0.31</text>
<text class="a d" transform="translate(392.42 226.74) scale(0.07 .1)">1.00</text>
<text class="a w" transform="translate(89.9 239.21) scale(0.07 .1)">-0.45</text>
<text class="a w" transform="translate(107.69 239.21) scale(0.07 .1)">-0.34</text>
<text class="a w" transform="translate(125.49 239.21) scale(0.07 .1)">-0.05</text>
<text class="a w" transform="translate(143.28 239.21) scale(0.07 .1)">0.10</text>
<text class="a w" transform="translate(161.08 239.21) scale(0.07 .1)">0.18</text>
<text class="a w" transform="translate(178.88 239.21) scale(0.07 .1)">0.06</text>
<text class="a w" transform="translate(196.67 239.21) scale(0.07 .1)">0.20</text>
<text class="a w" transform="translate(214.47 239.21) scale(0.07 .1)">0.06</text>
<text class="a w" transform="translate(232.26 239.21) scale(0.07 .1)">0.16</text>
<text class="a w" transform="translate(250.06 239.21) scale(0.07 .1)">0.17</text>
<text class="a w" transform="translate(267.85 239.21) scale(0.07 .1)">0.15</text>
<text class="a w" transform="translate(285.65 239.21) scale(0.07 .1)">0.21</text>
<text class="a w" transform="translate(303.45 239.21) scale(0.07 .1)">0.16</text>
<text class="a w" transform="translate(321.24 239.21) scale(0.07 .1)">0.15</text>
<text class="a w" transform="translate(339.04 239.21) scale(0.07 .1)">-0.13</text>
<text class="a w" transform="translate(356.83 239.21) scale(0.07 .1)">-0.01</text>
<text class="a w" transform="translate(374.63 239.21) scale(0.07 .1)">0.23</text>
<text class="a w" transform="translate(392.42 239.21) scale(0.07 .1)">-0.11</text>
<text class="a d" transform="translate(410.22 239.21) scale(0.07 .1)">1.00</text>
<text class="a w" transform="translate(89.9 251.67) scale(0.07 .1)">-0.41</text>
<text class="a w" transform="translate(107.69 251.67) scale(0.07 .1)">-0.08</text>
<text class="a w" transform="translate(125.49 251.67) scale(0.07 .1)">-0.39</text>
<text class="a d" transform="translate(143.28 251.67) scale(0.07 .1)">0.69</text>
<text class="a d" transform="translate(161.08 251.67) scale(0.07 .1)">0.74</text>
<text class="a d" transform="translate(178.88 251.67) scale(0.07 .1)">0.65</text>
<text class="a d" transform="translate(196.67 251.67) scale(0.07 .1)">0.72</text>
<text class="a d" transform="translate(214.47 251.67) scale(0.07 .1)">0.65</text>
<text class="a d" transform="translate(232.26 251.67) scale(0.07 .1)">0.65</text>
<text class="a d" transform="translate(250.06 251.67) scale(0.07 .1)">0.65</text>
<text class="a d" transform="translate(267.85 251.67) scale(0.07 .1)">0.61</text>
<text class="a d" transform="translate(285.65 251.67) scale(0.07 .1)">0.65</text>
<text class="a d" transform="translate(303.45 251.67) scale(0.07 .1)">0.67</text>
<text class="a d" transform="translate(321.24 251.67) scale(0.07 .1)">0.61</text>
<text class="a w" transform="translate(339.04 251.67) scale(0.07 .1)">0.54</text>
<text class="a w" transform="translate(356.83 251.67) scale(0.07 .1)">-0.67</text>
<text class="a w" transform="translate(374.63 251.67) scale(0.07 .1)">0.56</text>
<text class="a d" transform="translate(392.42 251.67) scale(0.07 .1)">0.59</text>
<text class="a w" transform="translate(410.22 251.67) scale(0.07 .1)">0.20</text>
<text class="a d" transform="translate(428.02 251.67) scale(0.07 .1)">1.00</text>
<text class="a w" transform="translate(89.9 264.14) scale(0.07 .1)">-0.25</text>
<text class="a w" transform="translate(107.69 264.14) scale(0.07 .1)">-0.00</text>
<text class="a w" transform="translate(125.49 264.14) scale(0.07 .1)">-0.24</text>
<text class="a w" transform="translate(143.28 264.14) scale(0.07 .1)">0.39</text>
<text class="a w" transform="translate(161.08 264.14) scale(0.07 .1)">0.39</text>
<text class="a w" transform="translate(178.88 264.14) scale(0.07 .1)">0.32</text>
<text class="a w" transform="translate(196.67 264.14) scale(0.07 .1)">0.41</text>
<text class="a w" transform="translate(214.47 264.14) scale(0.07 .1)">0.32</text>
<text class="a w" transform="translate(232.26 264.14) scale(0.07 .1)">0.45</text>
<text class="a w" transform="translate(250.06 264.14) scale(0.07 .1)">0.45</text>
<text class="a w" transform="translate(267.85 264.14) scale(0.07 .1)">0.40</text>
<text class="a w" transform="translate(285.65 264.14) scale(0.07 .1)">0.46</text>
<text class="a w" transform="translate(303.45 264.14) scale(0.07 .1)">0.50</text>
<text class="a w" transform="translate(321.24 264.14) scale(0.07 .1)">0.40</text>
<text class="a w" transform="translate(339.04 264.14) scale(0.07 .1)">0.32</text>
<text class="a w" transform="translate(356.83 264.14) scale(0.07 .1)">-0.43</text>
<text class="a w" transform="translate(374.63 264.14) scale(0.07 .1)">0.45</text>
<text class="a w" transform="translate(392.42 264.14) scale(0.07 .1)">0.48</text>
<text class="a w" transform="translate(410.22 264.14) scale(0.07 .1)">0.17</text>
<text class="a d" transform="translate(428.02 264.14) scale(0.07 .1)">0.65</text>
<text class="a d" transform="translate(445.81 264.14) scale(0.07 .1)">1.00</text>
<text class="a w" transform="translate(89.9 276.6) scale(0.07 .1)">0.18</text>
<text class="a w" transform="translate(107.69 276.6) scale(0.07 .1)">0.18</text>
<text class="a w" transform="translate(125.49 276.6) scale(0.07 .1)">-0.10</text>
<text class="a w" transform="translate(143.28 276.6) scale(0.07 .1)">0.43</text>
<text class="a w" transform="translate(161.08 276.6) scale(0.07 .1)">0.31</text>
<text class="a w" transform="translate(178.88 276.6) scale(0.07 .1)">0.43</text>
<text class="a w" transform="translate(196.67 276.6) scale(0.07 .1)">0.41</text>
<text class="a w" transform="translate(214.47 276.6) scale(0.07 .1)">0.43</text>
<text class="a w" transform="translate(232.26 276.6) scale(0.07 .1)">0.51</text>
<text class="a w" transform="translate(250.06 276.6) scale(0.07 .1)">0.51</text>
<text class="a w" transform="translate(267.85 276.6) scale(0.07 .1)">0.47</text>
<text class="a w" transform="translate(285.65 276.6) scale(0.07 .1)">0.50</text>
<text class="a w" transform="translate(303.45 276.6) scale(0.07 .1)">0.54</text>
<text class="a w" transform="translate(321.24 276.6) scale(0.07 .1)">0.47</text>
<text class="a w" transform="translate(339.04 276.6) scale(0.07 .1)">0.47</text>
<text class="a w" transform="translate(356.83 276.6) scale(0.07 .1)">-0.60</text>
<text class="a w" transform="translate(374.63 276.6) scale(0.07 .1)">0.34</text>
<text class="a w" transform="translate(392.42 276.6) scale(0.07 .1)">0.24</text>
<text class="a w" transform="translate(410.22 276.6) scale(0.07 .1)">-0.17</text>
<text class="a w" transform="translate(428.02 276.6) scale(0.07 .1)">0.50</text>
<text class="a w" transform="translate(445.81 276.6) scale(0.07 .1)">0.52</text>
<text class="a d" transform="translate(463.61 276.6) scale(0.07 .1)">1.00</text>
<text class="a w" transform="translate(89.9 289.07) scale(0.07 .1)">-0.37</text>
<text class="a w" transform="translate(107.69 289.07) scale(0.07 .1)">-0.07</text>
<text class="a w" transform="translate(125.49 289.07) scale(0.07 .1)">-0.34</text>
<text class="a d" transform="translate(143.28 289.07) scale(0.07 .1)">0.72</text>
<text class="a d" transform="translate(161.08 289.07) scale(0.07 .1)">0.75</text>
<text class="a d" transform="translate(178.88 289.07) scale(0.07 .1)">0.67</text>
<text class="a d" transform="translate(196.67 289.07) scale(0.07 .1)">0.77</text>
<text class="a d" transform="translate(214.47 289.07) scale(0.07 .1)">0.67</text>
<text class="a d" transform="translate(232.26 289.07) scale(0.07 .1)">0.69</text>
<text class="a d" transform="translate(250.06 289.07) scale(0.07 .1)">0.70</text>
<text class="a d" transform="translate(267.85 289.07) scale(0.07 .1)">0.65</text>
<text class="a d" transform="translate(285.65 289.07) scale(0.07 .1)">0.70</text>
<text class="a d" transform="translate(303.45 289.07) scale(0.07 .1)">0.72</text>
<text class="a d" transform="translate(321.24 289.07) scale(0.07 .1)">0.65</text>
<text class="a w" transform="translate(339.04 289.07) scale(0.07 .1)">0.55</text>
<text class="a w" transform="translate(356.83 289.07) scale(0.07 .1)">-0.69</text>
<text class="a w" transform="translate(374.63 289.07) scale(0.07 .1)">0.53</text>
<text class="a w" transform="translate(392.42 289.07) scale(0.07 .1)">0.55</text>
<text class="a w" transform="translate(410.22 289.07) scale(0.07 .1)">0.27</text>
<text class="a d" transform="translate(428.02 289.07) scale(0.07 .1)">0.96</text>
<text class="a d" transform="translate(445.81 289.07) scale(0.07 .1)">0.64</text>
<text class="a w" transform="translate(463.61 289.07) scale(0.07 .1)">0.48</text>
<text class="a d" transform="translate(481.4 289.07) scale(0.07 .1)">1.00</text></g>
<path d="M89.9 293.8v4.1M107.69 293.8v4.1M125.49 293.8v4.1M143.28 293.8v4.1M161.08 293.8v4.1M178.88 293.8v4.1M196.67 293.8v4.1M214.47 293.8v4.1M232.26 293.8v4.1M250.06 293.8v4.1M267.85 293.8v4.1M285.65 293.8v4.1M303.45 293.8v4.1M321.24 293.8v4.1M339.04 293.8v4.1M356.83 293.8v4.1M374.63 293.8v4.1M392.42 293.8v4.1M410.22 293.8v4.1M428.02 293.8v4.1M445.81 293.8v4.1M463.61 293.8v4.1M481.4 293.8v4.1M78.4 11.83h2.6M78.4 24.3h2.6M78.4 36.76h2.6M78.4 49.23h2.6M78.4 61.69h2.6M78.4 74.16h2.6M78.4 86.62h2.6M78.4 99.09h2.6M78.4 111.55h2.6M78.4 124.02h2.6M78.4 136.48h2.6M78.4 148.95h2.6M78.4 161.42h2.6M78.4 173.88h2.6M78.4 186.35h2.6M78.4 198.81h2.6M78.4 211.28h2.6M78.4 223.74h2.6M78.4 236.21h2.6M78.4 248.67h2.6M78.4 261.14h2.6M78.4 273.6h2.6M78.4 286.07h2.6" stroke="#262626" stroke-width="1" fill="none"/>
<text class="t" text-anchor="end" transform="translate(92.63 303.5) scale(0.07 .1) rotate(-90)">MDVP:Fo(Hz)</text>
<text class="t" text-anchor="end" transform="translate(110.42 303.5) scale(0.07 .1) rotate(-90)">MDVP:Fhi(Hz)</text>
<text class="t" text-anchor="end" transform="translate(128.22 303.5) scale(0.07 .1) rotate(-90)">MDVP:Flo(Hz)</text>
<text class="t" text-anchor="end" transform="translate(146.01 303.5) scale(0.07 .1) rotate(-90)">MDVP:Jitter(%)</text>
<text class="t" text-anchor="end" transform="translate(163.81 303.5) scale(0.07 .1) rotate(-90)">MDVP:Jitter(Abs)</text>
<text class="t" text-anchor="end" transform="translate(181.61 303.5) scale(0.07 .1) rotate(-90)">MDVP:RAP</text>
<text class="t" text-anchor="end" transform="translate(199.4 303.5) scale(0.07 .1) rotate(-90)">MDVP:PPQ</text>
<text class="t" text-anchor="end" transform="translate(217.2 303.5) scale(0.07 .1) rotate(-90)">Jitter:DDP</text>
<text class="t" text-anchor="end" transform="translate(234.99 303.5) scale(0.07 .1) rotate(-90)">MDVP:Shimmer</text>
<text class="t" text-anchor="end" transform="translate(252.79 303.5) scale(0.07 .1) rotate(-90)">MDVP:Shimmer(dB)</text>
<text class="t" text-anchor="end" transform="translate(270.58 303.5) scale(0.07 .1) rotate(-90)">Shimmer:APQ3</text>
<text class="t" text-anchor="end" transform="translate(288.38 303.5) scale(0.07 .1) rotate(-90)">Shimmer:APQ5</text>
<text class="t" text-anchor="end" transform="translate(306.18 303.5) scale(0.07 .1) rotate(-90)">MDVP:APQ</text>
<text class="t" text-anchor="end" transform="translate(323.97 303.5) scale(0.07 .1) rotate(-90)">Shimmer:DDA</text>
<text class="t" text-anchor="end" transform="translate(341.77 303.5) scale(0.07 .1) rotate(-90)">NHR</text>
<text class="t" text-anchor="end" transform="translate(359.56 303.5) scale(0.07 .1) rotate(-90)">HNR</text>
<text class="t" text-anchor="end" transform="translate(377.36 303.5) scale(0.07 .1) rotate(-90)">status</text>
<text class="t" text-anchor="end" transform="translate(395.15 303.5) scale(0.07 .1) rotate(-90)">RPDE</text>
<text class="t" text-anchor="end" transform="translate(412.95 303.5) scale(0.07 .1) rotate(-90)">DFA</text>
<text class="t" text-anchor="end" transform="translate(430.75 303.5) scale(0.07 .1) rotate(-90)">spread1</text>
<text class="t" text-anchor="end" transform="translate(448.54 303.5) scale(0.07 .1) rotate(-90)">spread2</text>
<text class="t" text-anchor="end" transform="translate(466.34 303.5) scale(0.07 .1) rotate(-90)">D2</text>
<text class="t" text-anchor="end" transform="translate(484.13 303.5) scale(0.07 .1) rotate(-90)">PPE</text>
<text class="t y" text-anchor="end" transform="translate(75.2 17.53) scale(0.07 .1) rotate(-30)">MDVP:Fo(Hz)</text>
<text class="t y" text-anchor="end" transform="translate(75.2 30) scale(0.07 .1) rotate(-30)">MDVP:Fhi(Hz)</text>
<text class="t y" text-anchor="end" transform="translate(75.2 42.46) scale(0.07 .1) rotate(-30)">MDVP:Flo(Hz)</text>
<text class="t y" text-anchor="end" transform="translate(75.2 54.93) scale(0.07 .1) rotate(-30)">MDVP:Jitter(%)</text>
<text class="t y" text-anchor="end" transform="translate(75.2 67.39) scale(0.07 .1) rotate(-30)">MDVP:Jitter(Abs)</text>
<text class="t y" text-anchor="end" transform="translate(75.2 79.86) scale(0.07 .1) rotate(-30)">MDVP:RAP</text>
<text class="t y" text-anchor="end" transform="translate(75.2 92.32) scale(0.07 .1) rotate(-30)">MDVP:PPQ</text>
<text class="t y" text-anchor="end" transform="translate(75.2 104.79) scale(0.07 .1) rotate(-30)">Jitter:DDP</text>
<text class="t y" text-anchor="end" transform="translate(75.2 117.25) scale(0.07 .1) rotate(-30)">MDVP:Shimmer</text>
<text class="t y" text-anchor="end" transform="translate(75.2 129.72) scale(0.07 .1) rotate(-30)">MDVP:Shimmer(dB)</text>
<text class="t y" text-anchor="end" transform="translate(75.2 142.18) scale(0.07 .1) rotate(-30)">Shimmer:APQ3</text>
<text class="t y" text-anchor="end" transform="translate(75.2 154.65) scale(0.07 .1) rotate(-30)">Shimmer:APQ5</text>
<text class="t y" text-anchor="end" transform="translate(75.2 167.12) scale(0.07 .1) rotate(-30)">MDVP:APQ</text>
<text class="t y" text-anchor="end" transform="translate(75.2 179.58) scale(0.07 .1) rotate(-30)">Shimmer:DDA</text>
<text class="t y" text-anchor="end" transform="translate(75.2 192.05) scale(0.07 .1) rotate(-30)">NHR</text>
<text class="t y" text-anchor="end" transform="translate(75.2 204.51) scale(0.07 .1) rotate(-30)">HNR</text>
<text class="t y" text-anchor="end" transform="translate(75.2 216.98) scale(0.07 .1) rotate(-30)">status</text>
<text class="t y" text-anchor="end" transform="translate(75.2 229.44) scale(0.07 .1) rotate(-30)">RPDE</text>
<text class="t y" text-anchor="end" transform="translate(75.2 241.91) scale(0.07 .1) rotate(-30)">DFA</text>
<text class="t y" text-anchor="end" transform="translate(75.2 254.37) scale(0.07 .1) rotate(-30)">spread1</text>
<text class="t y" text-anchor="end" transform="translate(75.2 266.84) scale(0.07 .1) rotate(-30)">spread2</text>
<text class="t y" text-anchor="end" transform="translate(75.2 279.3) scale(0.07 .1) rotate(-30)">D2</text>
<text class="t y" text-anchor="end" transform="translate(75.2 291.77) scale(0.07 .1) rotate(-30)">PPE</text>
<rect x="515.6" y="5.6" width="10.2" height="286.7" fill="url(#cb)"/>
<text class="c" transform="translate(530.7 9.1) scale(0.073 .1)">1.00</text>
<text class="c" transform="translate(530.7 48.29) scale(0.073 .1)">0.75</text>
<text class="c" transform="translate(530.7 87.48) scale(0.073 .1)">0.50</text>
<text class="c" transform="translate(530.7 126.66) scale(0.073 .1)">0.25</text>
<text class="c" transform="translate(530.7 165.85) scale(0.073 .1)">0.00</text>
<text class="c" transform="translate(530.7 205.04) scale(0.073 .1)">−0.25</text>
<text class="c" transform="translate(530.7 244.23) scale(0.073 .1)">−0.50</text>
<text class="c" transform="translate(530.7 283.42) scale(0.073 .1)">−0.75</text>
<path d="M525.8 5.6h3M525.8 44.79h3M525.8 83.98h3M525.8 123.16h3M525.8 162.35h3M525.8 201.54h3M525.8 240.73h3M525.8 279.92h3" stroke="#262626" stroke-width="1" fill="none"/>
</g></svg></body></html>
